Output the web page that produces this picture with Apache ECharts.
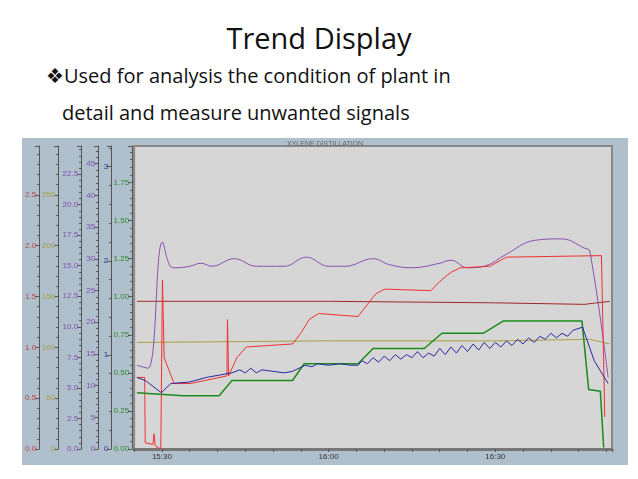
<!DOCTYPE html>
<html>
<head>
<meta charset="utf-8">
<script src="https://cdn.jsdelivr.net/npm/echarts@6/dist/echarts.min.js"></script>
<style>
body{margin:0;width:638px;height:479px;background:#fff;position:relative;overflow:hidden;font-family:"Open Sans",sans-serif}
#t{position:absolute;top:18px;width:638px;text-align:center;font-size:29px;color:#111}
#b1{position:absolute;left:46px;top:62px;font-size:20px;color:#111}
#b2{position:absolute;left:62px;top:99px;font-size:20px;color:#111}
#main{position:absolute;left:22px;top:138px;width:606px;height:327px;background:#b0bfcc}
</style>
</head>
<body>
<div id="t">Trend Display</div>
<div id="b1">❖Used for analysis the condition of plant in</div>
<div id="b2">detail and measure unwanted signals</div>
<div id="main"></div>
<script>
// minutes after 15:00, values on the 0-2 scale
var purple = [[25.5,0.55],[27.5,0.53],[30.1,1.36],[31.5,1.2],[32.5,1.19],[35,1.2],[37,1.22],[39,1.2],[43,1.25],[47,1.2],[52,1.2],[56,1.26],[60,1.2],[63,1.2],[68,1.25],[71,1.21],[75,1.19],[80,1.22],[82,1.24],[85,1.19],[88,1.2],[92,1.28],[97,1.37],[102,1.38],[106,1.32],[107,1.3],[110.3,0.47]];
var red = [[25.5,0.47],[26.9,0.47],[27,0.04],[28.4,0.03],[28.6,0.1],[28.8,0.02],[29.8,0],[30.1,1.11],[30.4,0.6],[32.2,0.43],[35.1,0.43],[41.7,0.48],[41.8,0.85],[42,0.48],[43.5,0.6],[45.2,0.67],[53.5,0.69],[55,0.76],[56.5,0.85],[58.2,0.89],[65.3,0.87],[67,0.95],[68.5,1.02],[70.1,1.05],[78.4,1.04],[80,1.1],[82,1.16],[83.7,1.19],[89,1.2],[90.5,1.23],[92,1.26],[109.1,1.27],[109.7,0.21]];
var darkred = [[25.5,0.97],[60,0.97],[90,0.96],[106,0.95],[110.6,0.97]];
var olive = [[25.5,0.7],[60,0.71],[90,0.71],[107,0.72],[110.6,0.69]];
var green = [[25.5,0.37],[33.8,0.35],[40.3,0.35],[42.6,0.45],[53.5,0.45],[55.6,0.56],[65.3,0.56],[68,0.66],[77.2,0.66],[80.4,0.76],[87.8,0.76],[91.4,0.84],[105.6,0.84],[106.8,0.39],[108.9,0.38],[109.5,0.01]];
var blue = [[25.5,0.47],[27,0.45],[29.9,0.37],[31.6,0.43],[35,0.44],[38,0.47],[42.6,0.5],[44,0.52],[45,0.5],[46,0.53],[47,0.5],[48,0.52],[50,0.51],[52,0.5],[53.5,0.51],[55.8,0.55],[57,0.54],[58,0.56],[60,0.55],[62,0.56],[64,0.55],[65.3,0.55],[66,0.58],[67,0.56],[68,0.6],[69,0.57],[70,0.61],[71,0.58],[72,0.62],[73,0.59],[74,0.62],[75,0.6],[76,0.64],[77,0.6],[78,0.63],[79,0.61],[80,0.66],[81,0.62],[82,0.67],[83,0.63],[84,0.68],[85,0.64],[86,0.69],[87,0.65],[88,0.7],[89,0.66],[90,0.7],[91,0.67],[92,0.71],[93,0.68],[94,0.72],[95,0.69],[96,0.73],[97,0.7],[98,0.74],[99,0.72],[100,0.76],[101,0.73],[102,0.76],[103,0.74],[104,0.78],[105.7,0.8],[107.8,0.58],[110.3,0.43]];
var xTicks = [30,60,90];

var chart = echarts.init(document.getElementById('main'));
function ax(off, max, step, color, dec, minorN){
    return {type:'value', position:'left', offset:off, min:0, max:max, interval:step,
        axisLine:{show:true, lineStyle:{color:'#555'}},
        axisTick:{show:true, length:4, lineStyle:{color:'#555'}},
        minorTick:{show:true, splitNumber:minorN, length:2, lineStyle:{color:'#555'}},
        splitLine:{show:false},
        axisLabel:{color:color, fontSize:8, margin:3, showMaxLabel:false,
            formatter:function(v){return v.toFixed(dec);}}};
}
var option = {
    animation:false,
    title:{text:'XYLENE DISTILLATION', left:260, top:-2, textStyle:{fontSize:7, color:'#666', fontWeight:'normal'}},
    grid:{left:111, top:8, right:16, bottom:16, show:true, backgroundColor:'#d6d6d6', borderColor:'#888', borderWidth:2},
    xAxis:{type:'value', min:25, max:111, interval:5,
        axisLine:{onZero:false, lineStyle:{color:'#777', width:3}},
        axisTick:{show:true, length:3, lineStyle:{color:'#555'}},
        splitLine:{show:false},
        axisLabel:{fontSize:8, color:'#333', margin:4, formatter:function(v){
            if (xTicks.indexOf(v) < 0) return '';
            var h = 15 + Math.floor(v/60), m = v%60;
            return h + ':' + (m < 10 ? '0' + m : m);}}},
    yAxis:[ax(2,1.99,0.25,'#2a8a2a',2,5), ax(23,3.22,1,'#3030a0',0,5), ax(36,47.8,5,'#8050b0',0,5),
        ax(53,24.8,2.5,'#8050b0',1,5), ax(76,298,50,'#a0a040',0,5), ax(95,2.98,0.5,'#c04040',1,5)],
    series:[
        {type:'line', data:darkred, color:'#a02828'},
        {type:'line', data:olive, color:'#a8a040'},
        {type:'line', data:purple, color:'#8a50b0', smooth:0.4},
        {type:'line', data:red, color:'#f03030'},
        {type:'line', data:green, color:'#1a8a1a', lineStyle:{width:1.5}},
        {type:'line', data:blue, color:'#2828a0'}
    ].map(function(s){s.showSymbol=false; s.lineStyle=s.lineStyle||{width:1}; return s;})
};
option && chart.setOption(option);
</script>
</body>
</html>
